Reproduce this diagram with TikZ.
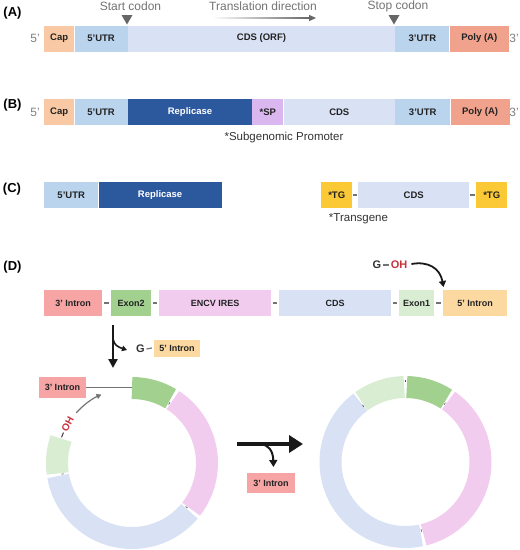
\documentclass[tikz,border=0pt]{standalone}
\usepackage{fontspec}
\setmainfont{Liberation Sans}
\usetikzlibrary{arrows.meta,calc}
\definecolor{capc}{HTML}{F9C8A4}
\definecolor{utrc}{HTML}{BAD4EE}
\definecolor{cdsc}{HTML}{D8E2F4}
\definecolor{polyc}{HTML}{F0A28C}
\definecolor{repc}{HTML}{2C589E}
\definecolor{spc}{HTML}{DAB8EF}
\definecolor{tgc}{HTML}{FBC935}
\definecolor{intr3}{HTML}{F6A4A4}
\definecolor{ex2c}{HTML}{A2D18F}
\definecolor{iresc}{HTML}{F2CCEF}
\definecolor{ex1c}{HTML}{D8EDD2}
\definecolor{intr5}{HTML}{FDD9A2}
\definecolor{ohred}{HTML}{C8323C}
\definecolor{txtd}{HTML}{222222}
\begin{document}
\begin{tikzpicture}[x=1pt,y=-1pt,
  seg/.style={inner sep=0pt, minimum height=26pt, anchor=west, text=txtd,
    font=\bfseries\fontsize{9.5}{11}\selectfont},
  sbox/.style={inner sep=0pt, text=txtd, font=\bfseries\fontsize{9}{11}\selectfont},
  plab/.style={font=\bfseries\fontsize{13}{15}\selectfont, text=black, inner sep=0pt},
  endl/.style={font=\fontsize{12}{14}\selectfont, text=black!50, inner sep=0pt},
  ann/.style={font=\fontsize{12}{14}\selectfont, text=black!55, inner sep=0pt},
  note/.style={font=\fontsize{11.5}{13}\selectfont, text=black!80, inner sep=0pt},
  conn/.style={draw=black!55, line width=1.2pt, shorten <=2pt, shorten >=2pt},
  tri/.style={fill=black!60},
  ring/.style={line width=22pt},
  tk/.style={draw=black!70, line width=0.6pt},
  bigarr/.style={draw=black!90, line width=4pt, -{Triangle[length=14pt,width=17pt]}},
  midarr/.style={draw=black!90, line width=2.2pt, -{Triangle[length=9pt,width=9pt]}},
  smallarr/.style={draw=black!90, line width=1.8pt, -{Triangle[length=6pt,width=7pt]}}
]
\useasboundingbox (0,0) rectangle (520,550);

% ---------------- (A)
\node[plab] (la) at (12.5,13) {(A)};
\node[endl] (a5) at (35,38.5) {5'};
\node[seg, fill=capc, minimum width=30pt] (a1) at (44,38.5) {Cap};
\node[seg, fill=utrc, minimum width=53pt] (a2) at (a1.east) {5'UTR};
\node[seg, fill=cdsc, minimum width=267pt] (a3) at (a2.east) {CDS (ORF)};
\node[seg, fill=utrc, minimum width=54pt] (a4) at (a3.east) {3'UTR};
\node[seg, fill=polyc, minimum width=59pt] (a6) at (a4.east) {Poly (A)};
\node[endl] (a3p) at (514,38.5) {3'};
\node[ann] (start) at (130.5,6) {Start codon};
\node[ann] (trans) at (263,6) {Translation direction};
\node[ann] (stop) at (398,6) {Stop codon};
\fill[tri] (121.5,15) -- (132.5,15) -- (127,24.5) -- cycle;
\fill[tri] (388.5,15) -- (399.5,15) -- (394,24.5) -- cycle;
\shade[left color=white, right color=black!60] (212,17.3) rectangle (310,18.8);
\fill[black!60] (309,14.8) -- (316,18) -- (309,21.2) -- cycle;

% ---------------- (B)
\node[plab] (lb) at (12.5,105) {(B)};
\node[endl] (b5) at (35,112) {5'};
\node[seg, fill=capc, minimum width=30pt] (b1) at (44,112) {Cap};
\node[seg, fill=utrc, minimum width=53pt] (b2) at (b1.east) {5'UTR};
\node[seg, fill=repc, text=white, minimum width=124pt] (b3) at (b2.east) {Replicase};
\node[seg, fill=spc, minimum width=31pt] (b4) at (b3.east) {*SP};
\node[seg, fill=cdsc, minimum width=111pt] (b6) at (b4.east) {CDS};
\node[seg, fill=utrc, minimum width=55pt] (b7) at (b6.east) {3'UTR};
\node[seg, fill=polyc, minimum width=59pt] (b8) at (b7.east) {Poly (A)};
\node[endl] (b3p) at (514,112) {3'};
\node[note] (sgp) at (284,137.5) {*Subgenomic Promoter};

% ---------------- (C)
\node[plab] (lc) at (12,189) {(C)};
\node[seg, fill=utrc, minimum width=54pt] (c1) at (44,195) {5'UTR};
\node[seg, fill=repc, text=white, minimum width=123pt] (c2) at (c1.east) {Replicase};
\node[seg, fill=tgc, minimum width=31pt] (c3) at (321,195) {*TG};
\node[seg, fill=cdsc, minimum width=111pt] (c4) at (358,195) {CDS};
\node[seg, fill=tgc, minimum width=31pt] (c5) at (476,195) {*TG};
\draw[conn, shorten <=1pt, shorten >=1pt] (c3.east) -- (c4.west);
\draw[conn, shorten <=1pt, shorten >=1pt] (c4.east) -- (c5.west);
\node[note] (tgn) at (358.5,219) {*Transgene};

% ---------------- (D)
\node[plab] (ld) at (12.5,267) {(D)};
\node[seg, fill=intr3, minimum width=58pt, font=\bfseries\fontsize{9}{11}\selectfont] (d1) at (44,303) {3' Intron};
\node[seg, fill=ex2c, minimum width=40pt, font=\bfseries\fontsize{9}{11}\selectfont] (d2) at (111,303) {Exon2};
\node[seg, fill=iresc, minimum width=112pt, font=\bfseries\fontsize{9}{11}\selectfont] (d3) at (159,303) {ENCV IRES};
\node[seg, fill=cdsc, minimum width=112pt, font=\bfseries\fontsize{9}{11}\selectfont] (d4) at (279,303) {CDS};
\node[seg, fill=ex1c, minimum width=35pt, font=\bfseries\fontsize{9}{11}\selectfont] (d5) at (399,303) {Exon1};
\node[seg, fill=intr5, minimum width=64pt, font=\bfseries\fontsize{9}{11}\selectfont] (d6) at (443,303) {5' Intron};
\draw[conn] (d1.east) -- (d2.west);
\draw[conn] (d2.east) -- (d3.west);
\draw[conn] (d3.east) -- (d4.west);
\draw[conn] (d4.east) -- (d5.west);
\draw[conn] (d5.east) -- (d6.west);

% G-OH attack
\node[font=\bfseries\fontsize{11}{13}\selectfont, text=black!80, inner sep=0pt] (g1) at (377,265) {G};
\node[font=\bfseries\fontsize{11}{13}\selectfont, text=ohred, inner sep=0pt] (oh1) at (399,265) {OH};
\draw[draw=black!55, line width=1.2pt] ($(g1.east)+(1.5,0)$) -- ($(oh1.west)+(-1.5,0)$);
\coordinate (att) at (443.5,287);
\draw[smallarr] ($(oh1.east)+(4,-1)$) .. controls (428,261) and (440,268) .. (att);

% down arrow, release of G-5' intron
\coordinate (dn0) at (113,325);
\coordinate (dn1) at (113,368);
\draw[midarr] (dn0) -- (dn1);
\coordinate (br0) at (113,339);
\coordinate (br1) at (127,350);
\draw[draw=black!90, line width=1.6pt, -{Triangle[length=5pt,width=5.5pt]}] (br0) .. controls (114,345) and (118,347) .. (br1);
\node[font=\bfseries\fontsize{11}{13}\selectfont, text=black!80, inner sep=0pt] (g2) at (140.5,349) {G};
\node[sbox, fill=intr5, minimum width=46pt, minimum height=17pt] (i5b) at (177,348) {5' Intron};
\draw[draw=black!55, line width=1.2pt] ($(g2.east)+(1.5,0)$) -- ($(i5b.west)+(-2,0)$);

% ---------------- left circle
\coordinate (cl) at (132,463);
\draw[ring, ex2c]  (cl) ++(-90:75) arc[start angle=-90, end angle=-59, radius=75];
\draw[ring, iresc] (cl) ++(-57:75) arc[start angle=-57, end angle=38, radius=75];
\draw[ring, cdsc]  (cl) ++(40:75) arc[start angle=40, end angle=170, radius=75];
\draw[ring, ex1c]  (cl) ++(172:75) arc[start angle=172, end angle=199, radius=75];
\draw[tk] (cl) ++(-58:69) -- ++(-58:2.5);
\draw[tk] (cl) ++(39:69) -- ++(39:2.5);
\draw[tk] (cl) ++(171:69) -- ++(171:2.5);
\node[sbox, fill=intr3, minimum width=47pt, minimum height=21pt] (i3a) at (62.5,387.5) {3' Intron};
\coordinate (ex2top) at (132,387.5);
\draw[draw=black!55, line width=1pt] (i3a.east) -- (ex2top);
\draw[draw=black!55, line width=1.2pt, -{Triangle[length=5pt,width=5pt]}] (cl) ++(-138:75) arc[start angle=-138, end angle=-114, radius=75];
\node[font=\bfseries\fontsize{10}{12}\selectfont, text=ohred, inner sep=0pt, rotate=62] (oh2) at ($(cl)+(-149:75)$) {OH};
\coordinate (ex1end) at ($(cl)+(-160:75)$);
\draw[draw=black!70, line width=1.1pt] (ex1end) -- ($(cl)+(-156:75)$);

% ---------------- middle arrow
\coordinate (m0) at (237,444);
\coordinate (m1) at (303,444);
\draw[bigarr] (m0) -- (m1);
\coordinate (mb0) at (261,444);
\coordinate (mb1) at (273.5,467);
\draw[draw=black!90, line width=2pt, -{Triangle[length=7pt,width=8pt]}] (mb0) .. controls (268,445) and (273,450) .. (mb1);
\node[sbox, fill=intr3, minimum width=48pt, minimum height=20pt] (i3b) at (271,483) {3' Intron};

% ---------------- right circle
\coordinate (cr) at (405.5,462);
\draw[ring, ex1c]  (cr) ++(-126:75) arc[start angle=-126, end angle=-91, radius=75];
\draw[ring, ex2c]  (cr) ++(-89:75) arc[start angle=-89, end angle=-57, radius=75];
\draw[ring, iresc] (cr) ++(-55:75) arc[start angle=-55, end angle=76, radius=75];
\draw[ring, cdsc]  (cr) ++(78:75) arc[start angle=78, end angle=233, radius=75];
\draw[tk] (cr) ++(-90:80) -- ++(-90:2.5);
\draw[tk] (cr) ++(-56:69) -- ++(-56:2.5);
\draw[tk] (cr) ++(77:69) -- ++(77:2.5);
\draw[tk] (cr) ++(-127:69) -- ++(-127:2.5);
\end{tikzpicture}
\end{document}
